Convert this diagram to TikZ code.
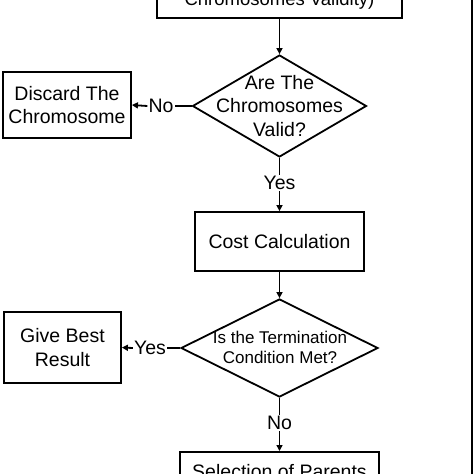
\documentclass[tikz,border=0pt]{standalone}
\usepackage{fontspec}
\setmainfont{Liberation Sans}
\usetikzlibrary{shapes.geometric,arrows.meta}

\begin{document}
\begin{tikzpicture}[x=1pt,y=-1pt,
	process/.style={draw,line width=1.8pt,rectangle,inner sep=0pt,align=center,font=\fontsize{19.5}{23.5}\selectfont},
	decision/.style={draw,line width=1.8pt,diamond,inner sep=0pt},
	txt/.style={align=center,inner sep=0pt,font=\fontsize{19.5}{23.5}\selectfont},
	lbl/.style={inner sep=1pt,font=\fontsize{19.5}{23.5}\selectfont},
	flow/.style={line width=1.8pt,-{Triangle[length=6pt,width=6pt]}},
	link/.style={line width=1.8pt}]
	\useasboundingbox (0,0) rectangle (474,474);
	% boxes and questions
	\node[process,minimum width=245,minimum height=70,anchor=south] (check) at (279.5,19) {};
	\node[txt,anchor=base,font=\fontsize{18.5}{22}\selectfont] (checktext) at (279.5,5) {Chromosomes Validity)};
	\node[decision,minimum width=174,minimum height=102] (valid) at (279.5,106) {};
	\node[txt] (validtext) at (valid) {Are The\\Chromosomes\\Valid?};
	\node[process,minimum width=128,minimum height=66] (discard) at (67,105) {Discard The\\Chromosome};
	\node[process,minimum width=169,minimum height=59] (cost) at (279.5,241.5) {Cost Calculation};
	\node[decision,minimum width=197,minimum height=98] (term) at (279.5,348) {};
	\node[txt,font=\fontsize{17}{20}\selectfont] (termtext) at (280,347) {Is the Termination\\Condition Met?};
	\node[process,minimum width=117,minimum height=71] (best) at (62.5,347.5) {Give Best\\Result};
	\node[process,minimum width=199,minimum height=60,anchor=north] (select) at (279.5,451) {};
	\node[txt,anchor=base] (selecttext) at (279.5,478) {Selection of Parents};
	% answers
	\node[lbl] (no1) at (161,106) {No};
	\node[lbl] (yes1) at (279.5,183) {Yes};
	\node[lbl] (yes2) at (150,348) {Yes};
	\node[lbl] (no2) at (279.5,423) {No};
	% loop back line on the right
	\coordinate (loopTop) at (472,-5);
	\coordinate (loopBot) at (472,480);
	\draw[line width=2.6pt] (loopBot) -- (loopTop);
	% connectors
	\draw[flow] (check.south) -- (valid.north);
	\draw[link] (valid.west) -- (no1.east);
	\draw[flow] (no1.west) -- (discard.east);
	\draw[link] (valid.south) -- (yes1.north);
	\draw[flow] (yes1.south) -- (cost.north);
	\draw[flow] (cost.south) -- (term.north);
	\draw[link] (term.west) -- (yes2.east);
	\draw[flow] (yes2.west) -- (best.east);
	\draw[link] (term.south) -- (no2.north);
	\draw[flow] (no2.south) -- (select.north);
\end{tikzpicture}
\end{document}
